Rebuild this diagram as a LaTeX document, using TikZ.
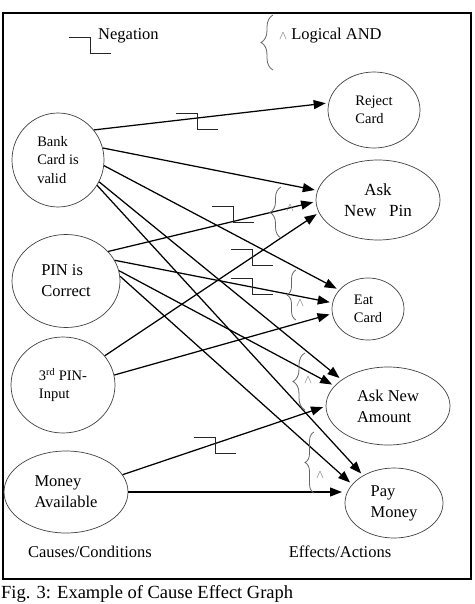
\documentclass[tikz,border=0pt]{standalone}
\usepackage{fontspec}
\setmainfont{Liberation Serif}
\usetikzlibrary{shapes.geometric,arrows.meta,decorations.pathreplacing}

\tikzset{
  state/.style={ellipse,draw=black!75,line width=0.7pt,inner sep=0pt,align=left},
  effect/.style={state,outer sep=3pt},
  cause/.style={-{Triangle[length=12pt,width=9pt]},line width=1.25pt},
  andbrace/.style={draw=black!60,line width=0.8pt,decorate,decoration={brace,amplitude=#1}},
  andsign/.style={text=black!60,inner sep=0pt,font=\fontsize{12.5}{14}\selectfont},
  notsign/.style={line width=0.9pt,black!85},
  smalltext/.style={font=\fontsize{14.5}{18.5}\selectfont}
}
\newcommand\negsym[1]{\draw[notsign] #1 ++(-21,-8) -- ++(21,0) -- ++(0,16) -- ++(21,0);}

\begin{document}
\begin{tikzpicture}[font=\fontsize{16.5}{21}\selectfont,x=1pt,y=-1pt]
\useasboundingbox (0,0) rectangle (474,604);
\draw[line width=2pt] (3,13) rectangle (471,579);

\negsym{(90,45)}
\node[anchor=west,inner sep=0pt] (negtext) at (98,36) {Negation};
\draw[andbrace=12pt] (273,70) -- (273,15);
\node[anchor=west,inner sep=0pt] (andtext) at (279,36) {\textcolor{black!60}{\fontsize{12.5}{14}\selectfont$\wedge$} Logical AND};

\node[state,smalltext,minimum width=92pt,minimum height=94pt] (bank) at (58,160) {Bank\\Card is\\valid};
\node[state,minimum width=108pt,minimum height=93pt] (pin) at (66,281) {PIN is\\Correct};
\node[state,smalltext,minimum width=104pt,minimum height=96pt] (third) at (63,385) {3\textsuperscript{rd} PIN-\\Input};
\node[state,minimum width=124pt,minimum height=82pt] (money) at (66,492) {Money\\Available};

\node[effect,smalltext,minimum width=92pt,minimum height=76pt] (reject) at (374,110) {Reject\\Card};
\node[effect,align=center,font=\fontsize{17}{21}\selectfont,minimum width=124pt,minimum height=80pt] (askpin) at (378,200) {Ask\\New\ \ \ Pin};
\node[effect,smalltext,minimum width=72pt,minimum height=62pt] (eat) at (368,309) {Eat\\Card};
\node[effect,minimum width=124pt,minimum height=78pt] (askamt) at (388,406) {Ask New\\Amount};
\node[effect,minimum width=98pt,minimum height=70pt] (pay) at (394,503) {Pay\\Money};

\node (causes) at (90,552) {Causes/Conditions};
\node (effects) at (340,552) {Effects/Actions};

\draw[cause] (bank.40) -- (reject.172);
\draw[cause] (bank.15) -- (askpin.171);
\draw[cause] (bank.-7) -- (eat.147);
\draw[cause] (bank.-28) -- (askamt.150);
\draw[cause] (bank.-33) -- (pay.138);
\draw[cause] (pin.35) -- (askpin.182);
\draw[cause] (pin.23) -- (eat.170);
\draw[cause] (pin.11) -- (askamt.159);
\draw[cause] (pin.5) -- (pay.155);
\draw[cause] (third.35) -- (askpin.193);
\draw[cause] (third.11) -- (eat.188);
\draw[cause] (money.17) -- (askamt.181);
\draw[cause] (money.east) -- (money.east -| pay.west);

\negsym{(197,121)}
\negsym{(233,214)}
\negsym{(252,257)}
\negsym{(252,286)}
\negsym{(215,445)}

\draw[andbrace=11pt] (281,238) -- (281,187);
\node[andsign] (and1) at (290,208) {$\wedge$};
\draw[andbrace=9pt] (296,320) -- (296,270);
\node[andsign] (and2) at (300,303) {$\wedge$};
\draw[andbrace=12pt] (305,410) -- (305,353);
\node[andsign] (and3) at (308,380) {$\wedge$};
\draw[andbrace=9pt] (314,493) -- (314,432);
\node[andsign] (and4) at (320,475) {$\wedge$};

\node[anchor=base west,inner sep=0pt,font=\fontsize{18.5}{22}\selectfont] (caption) at (1,598) {Fig. 3: Example of Cause Effect Graph};
\end{tikzpicture}
\end{document}
